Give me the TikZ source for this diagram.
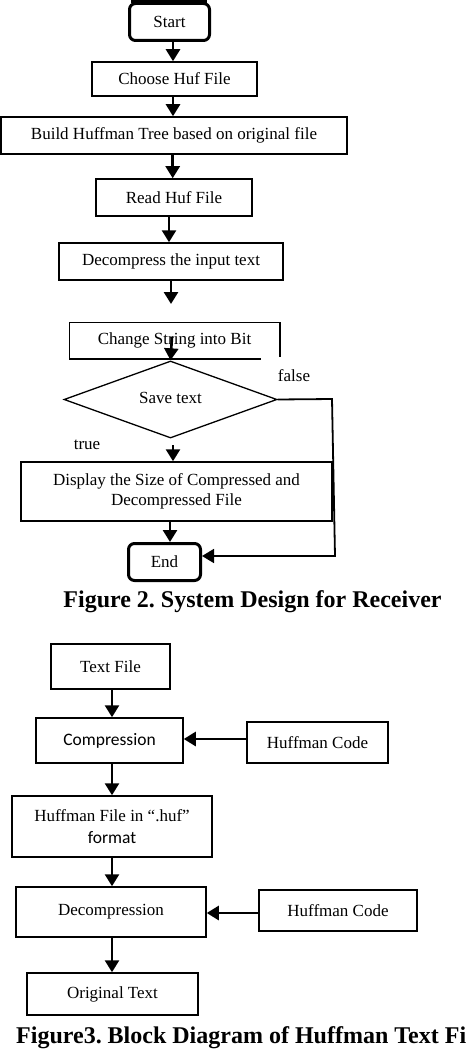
\documentclass[tikz,border=0pt]{standalone}
\usepackage{fontspec}
\setmainfont{Liberation Serif}
\newfontfamily\calfont{Carlito}
\usetikzlibrary{shapes.geometric,arrows.meta,calc}
\frenchspacing
\begin{document}
\begin{tikzpicture}[x=1pt,y=-1pt,
  box/.style={draw,line width=1.5pt,inner sep=0pt,align=center,font=\fontsize{17}{20}\selectfont},
  term/.style={draw,line width=3pt,rounded corners=6pt,inner sep=0pt,font=\fontsize{17}{20}\selectfont},
  arr/.style={line width=2.6pt,-{Triangle[width=14pt,length=12pt]}},
  lbl/.style={inner sep=0pt,font=\fontsize{17}{20}\selectfont},
  captext/.style={inner sep=0pt,font=\fontsize{24}{28}\selectfont\bfseries}]
\useasboundingbox (0,0) rectangle (474,1051);
\fill (131,0) rectangle (207,3);
% Figure 2
\node[term,minimum width=80pt,minimum height=37pt] (start) at (169.5,22) {Start};
\node[box,minimum width=165pt,minimum height=34pt] (choose) at (174.5,79) {\raisebox{-4pt}{Choose Huf File}};
\node[box,minimum width=346pt,minimum height=37pt] (build) at (174,135.5) {Build Huffman Tree based on original file};
\node[box,minimum width=156pt,minimum height=37pt] (read) at (174,197.5) {Read Huf File};
\node[box,minimum width=224pt,minimum height=37pt] (decomp) at (171,261.5) {Decompress the input text};
\coordinate (d1) at (171,304);
\node[box,draw=none,minimum width=209pt,minimum height=35pt] (change) at (174.5,340.5) {Change String into Bit};
\draw[line width=1.5pt] ($(change.south east)+(0,-2)$) -- (change.north east) -- (change.north west) -- (change.south west) -- ($(change.south east)+(-19,0)$);
\node[diamond,draw,line width=1.3pt,inner sep=0pt,minimum width=213pt,minimum height=71pt,font=\fontsize{17}{20}\selectfont] (dia) at (170.5,399.5) {\raisebox{3pt}{Save text}};
\node[box,minimum width=311pt,minimum height=59pt] (disp) at (176.5,491.5) {Display the Size of Compressed and\\Decompressed File};
\node[term,minimum width=72pt,minimum height=37pt] (endn) at (164.5,562) {End};
\node[lbl] (false) at (294,376) {false};
\node[lbl] (true) at (87,445) {true};
\coordinate (c1) at (172,337);
\coordinate (t1) at (173,445);
\coordinate (f1) at (332,399);
\coordinate (f2) at (335,556);
\draw[arr] (173,0 |- start.south) -- (173,0 |- choose.north);
\draw[arr] (173,0 |- choose.south) -- (173,0 |- build.north);
\draw[arr] (172.7,0 |- build.south) -- (172.7,0 |- read.north);
\draw[arr] (169,0 |- read.south) -- (169,0 |- decomp.north);
\draw[arr] (171,0 |- decomp.south) -- (d1);
\draw[arr] (c1) -- (dia.north);
\draw[arr] (t1) -- (173,0 |- disp.north);
\draw[arr] (170,0 |- disp.south) -- (170,0 |- endn.north);
\draw[arr,line width=1.8pt] (dia.east) -- (f1) -- (f2) -- (endn.east |- f2);
\node[captext] (cap2) at (252.5,602) {Figure 2. System Design for Receiver};
% Figure 3
\node[box,minimum width=119pt,minimum height=45pt] (tf) at (110.5,666.5) {Text File};
\node[box,minimum width=147pt,minimum height=45pt,font=\fontsize{17.5}{20}\calfont] (comp) at (109.5,740.5) {\raisebox{1pt}{Compression}};
\node[box,minimum width=141pt,minimum height=41pt] (hc1) at (317.5,742.5) {Huffman Code};
\node[box,minimum width=200pt,minimum height=61pt] (hf) at (112,826.5) {Huffman File in “.huf”\\[2pt]{\fontsize{17.5}{20}\calfont format}};
\node[box,minimum width=190pt,minimum height=50pt] (dec) at (111,912) {\raisebox{4pt}{Decompression}};
\node[box,minimum width=158pt,minimum height=41pt] (hc2) at (338,910.5) {Huffman Code};
\node[box,minimum width=171pt,minimum height=42pt] (orig) at (112.5,994) {Original Text};
\draw[arr] (112,0 |- tf.south) -- (112,0 |- comp.north);
\draw[arr] (112,0 |- comp.south) -- (112,0 |- hf.north);
\draw[arr] (112,0 |- hf.south) -- (112,0 |- dec.north);
\draw[arr] (112,0 |- dec.south) -- (112,0 |- orig.north);
\draw[arr] (hc1.west |- 0,739) -- (comp.east |- 0,739);
\draw[arr] (hc2.west |- 0,913) -- (dec.east |- 0,913);
\node[captext,anchor=west] (cap3) at (16,1038) {Figure3. Block Diagram of Huffman Text Fi};
\end{tikzpicture}
\end{document}
